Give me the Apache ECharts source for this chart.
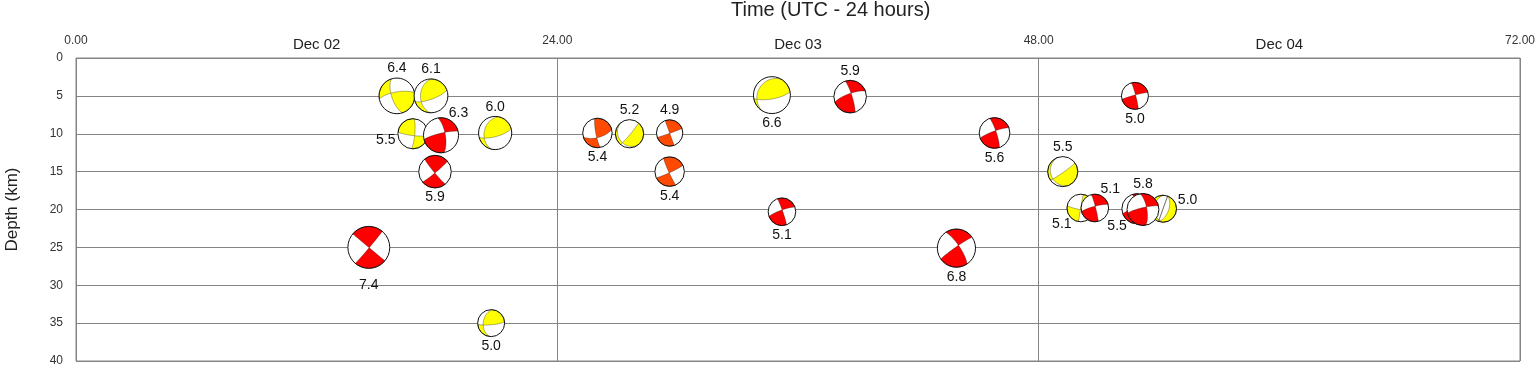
<!DOCTYPE html>
<html><head><meta charset="utf-8">
<script src="https://cdn.jsdelivr.net/npm/echarts@6/dist/echarts.min.js"></script>
<style>html,body{margin:0;padding:0;background:#fff}#c{width:1536px;height:366px}</style>
</head><body><div id="c"></div>
<script>
// ---- data (hours from Dec 02 00:00 UTC, depth km, magnitude, focal mechanism) ----
const hours   = [14.6, 16.0, 16.8, 17.7, 18.2, 17.9, 20.9, 20.7, 26.0, 27.6, 29.6, 29.6, 34.7, 35.2, 38.6, 43.9, 45.8, 49.2, 50.1, 50.8, 52.8, 52.9, 54.2, 53.2];
const depths  = [25.0, 5.0, 10.0, 5.0, 10.2, 15.0, 9.9, 35.0, 9.9, 10.0, 9.9, 15.0, 4.9, 20.3, 5.1, 25.1, 9.9, 15.0, 19.8, 19.8, 5.0, 19.9, 19.9, 20.0];
const mags    = [7.4, 6.4, 5.5, 6.1, 6.3, 5.9, 6.0, 5.0, 5.4, 5.2, 4.9, 5.4, 6.6, 5.1, 5.9, 6.8, 5.6, 5.5, 5.1, 5.1, 5.0, 5.5, 5.0, 5.8];
const kinds   = ['red','yellow','yellow','yellow','red','red','yellow','yellow','orange','yellow','orange','orange','yellow','red','red','red','red','yellow','yellow','red','red','red','yellow','red'];
const strikes = [40, 260, 5, 70, 350, 50, 75, 85, 75, 40, 70, 65, 212, 250, 250, 235, 250, 55, 100, 255, 255, 250, 20, 350];
const dips    = [88, 72, 80, 74, 70, 85, 72, 80, 65, 85, 88, 85, 24, 80, 75, 85, 80, 85, 80, 80, 85, 80, 55, 70];
const rakes   = [180, 25, 170, 125, 10, 175, 120, 130, 170, -70, 180, 175, 45, 175, 170, 166, 170, -70, 180, 175, 175, 170, -80, 10];
const labelPlacement = ['bottomFar','top','left','top','topRight','bottom','top','bottom','bottom','top','top','bottom','bottom','bottom','top','bottom','bottom','top','bottomLeft','topRight','bottom','bottomLeft','right','top'];
const xTickHours = [0, 24, 48, 72];
const dayNames = ['Dec 02', 'Dec 03', 'Dec 04'];
const dayCenters = [12, 36, 60];

// ---- styles ----
const COLORS = {red:'#FF0000', yellow:'#FFFF00', orange:'#FF4A00'};
const FONT = '"Liberation Sans", Arial, sans-serif';
const PLACE = {top:[-90,0], bottom:[90,0], bottomFar:[90,7], left:[165,0], right:[-22,0], topRight:[-55,0], bottomLeft:[135,0]};
function radiusOf(m){ return 3.1*m - 2; }

// ---- focal mechanism geometry ----
const D2R = Math.PI/180;
function dot(a,b){return a[0]*b[0]+a[1]*b[1]+a[2]*b[2];}
function cross(a,b){return [a[1]*b[2]-a[2]*b[1], a[2]*b[0]-a[0]*b[2], a[0]*b[1]-a[1]*b[0]];}
function nrm(a){const l=Math.hypot(a[0],a[1],a[2])||1;return [a[0]/l,a[1]/l,a[2]/l];}
function proj(v,cx,cy,R){
  let [x,y,z]=nrm(v); if(z<0){x=-x;y=-y;z=-z;}
  const p=Math.asin(Math.min(1,z)); const rr=Math.SQRT2*Math.sin((Math.PI/2-p)/2);
  const az=Math.atan2(y,x);
  return [cx+R*rr*Math.sin(az), cy-R*rr*Math.cos(az)];
}
function basis(m){
  const h=nrm([-m[1],m[0],0]); let w=cross(m,h); if(w[2]<0) w=w.map(q=>-q);
  return {h,w};
}
function arc(b,t0,t1,cx,cy,R,out){
  const n=Math.max(2,Math.ceil(Math.abs(t1-t0)/(Math.PI/90)));
  for(let i=0;i<=n;i++){const t=t0+(t1-t0)*i/n;
    const v=[Math.cos(t)*b.h[0]+Math.sin(t)*b.w[0],Math.cos(t)*b.h[1]+Math.sin(t)*b.w[1],Math.cos(t)*b.h[2]+Math.sin(t)*b.w[2]];
    out.push(proj(v,cx,cy,R));}
}
function beachball(strike,dip,rake,cx,cy,R){
  const f=strike*D2R, d=dip*D2R, l=rake*D2R;
  const n=[-Math.sin(d)*Math.sin(f), Math.sin(d)*Math.cos(f), -Math.cos(d)];
  const s=[Math.cos(l)*Math.cos(f)+Math.sin(l)*Math.cos(d)*Math.sin(f), Math.cos(l)*Math.sin(f)-Math.sin(l)*Math.cos(d)*Math.cos(f), -Math.sin(l)*Math.sin(d)];
  let B=nrm(cross(n,s)); if(B[2]<0) B=B.map(q=>-q);
  const planes=[n,s].map(m=>{const b=basis(m); let tp=Math.atan2(dot(B,b.w),dot(B,b.h)); if(tp<0) tp=(tp<-Math.PI/2)?Math.PI:0; b.tp=tp; return b;});
  const ends=[];
  planes.forEach((b,k)=>{let a=Math.atan2(b.h[1],b.h[0]); if(a<0)a+=2*Math.PI;
    ends.push({az:a,k,t:0}); ends.push({az:(a+Math.PI)%(2*Math.PI),k,t:Math.PI});});
  ends.sort((a,b)=>a.az-b.az);
  const polys=[];
  for(let i=0;i<4;i++){
    const e=ends[i], g=ends[(i+1)%4];
    if(e.k===g.k) continue;
    let a0=e.az, a1=g.az; if(a1<=a0) a1+=2*Math.PI;
    const mid=(a0+a1)/2, vm=[Math.cos(mid),Math.sin(mid),0];
    if(dot(n,vm)*dot(s,vm)<=0) continue;
    const pts=[]; const nn=Math.max(2,Math.ceil((a1-a0)/(Math.PI/90)));
    for(let j=0;j<=nn;j++){const a=a0+(a1-a0)*j/nn; pts.push([cx+R*Math.sin(a), cy-R*Math.cos(a)]);}
    arc(planes[g.k], g.t, planes[g.k].tp, cx,cy,R, pts);
    arc(planes[e.k], planes[e.k].tp, e.t, cx,cy,R, pts);
    polys.push(pts);
  }
  return polys;
}

const rows = hours.map((h,i)=>[h, depths[i], mags[i], strikes[i], dips[i], rakes[i], i]);

function renderBall(params, api){
  const i = api.value(6);
  const c = api.coord([api.value(0), api.value(1)]);
  const R = radiusOf(api.value(2));
  const col = COLORS[kinds[i]];
  const children = [{type:'circle', shape:{cx:c[0],cy:c[1],r:R}, style:{fill:'#ffffff', stroke:null}}];
  beachball(api.value(3), api.value(4), api.value(5), c[0], c[1], R).forEach(p=>{
    children.push({type:'polygon', shape:{points:p}, style:{fill:col, stroke:'rgba(0,0,0,0.55)', lineWidth:0.6}});
  });
  children.push({type:'circle', shape:{cx:c[0],cy:c[1],r:R}, style:{fill:'none', stroke:'#111', lineWidth:1}});
  return {type:'group', children};
}
function renderLabel(params, api){
  const i = api.value(6);
  const c = api.coord([api.value(0), api.value(1)]);
  const R = radiusOf(api.value(2));
  const pl = PLACE[labelPlacement[i]];
  const th = pl[0]*D2R, ex = pl[1];
  return {type:'text', x: c[0] + Math.cos(th)*(R+13+ex), y: c[1] + Math.sin(th)*(R+9.5+ex),
    style:{text: api.value(2).toFixed(1), align:'center', verticalAlign:'middle', fill:'#111', font:'14px '+FONT}};
}

const chart = echarts.init(document.getElementById('c'), null, {renderer:'canvas'});
chart.setOption({
  animation:false,
  backgroundColor:'#ffffff',
  grid:{left:76, right:16, top:58, bottom:5, show:true, borderColor:'#858585', borderWidth:1, containLabel:false, outerBoundsMode:'none'},
  graphic:[{type:'text', left:731, top:0, style:{text:'Time (UTC - 24 hours)', font:'20px '+FONT, fill:'#222'}}],
  xAxis:[
    {type:'value', position:'top', min:0, max:72, interval:24,
     axisLine:{show:false}, axisTick:{show:false},
     axisLabel:{margin:11, fontSize:12, color:'#333', fontFamily:FONT,
       formatter:v=> xTickHours.indexOf(v)>=0 ? v.toFixed(2) : ''},
     splitLine:{show:true, lineStyle:{color:'#858585', width:1}}},
    {type:'value', position:'top', min:0, max:72, interval:12,
     axisLine:{show:false}, axisTick:{show:false}, splitLine:{show:false},
     axisLabel:{margin:6, fontSize:15, color:'#222', fontFamily:FONT,
       formatter:v=>{const k=dayCenters.indexOf(v); return k>=0?dayNames[k]:'';}}}
  ],
  yAxis:{type:'value', inverse:true, min:0, max:40, interval:5,
    name:'Depth (km)', nameLocation:'middle', nameGap:55, nameRotate:90,
    nameTextStyle:{fontSize:17, color:'#222', fontFamily:FONT},
    axisLine:{show:false}, axisTick:{show:false},
    axisLabel:{margin:13, fontSize:12, color:'#333', fontFamily:FONT},
    splitLine:{show:true, lineStyle:{color:'#858585', width:1}}},
  series:[
    {type:'custom', xAxisIndex:0, renderItem:renderBall, data:rows, encode:{x:0,y:1}, clip:false, z:3},
    {type:'custom', xAxisIndex:0, renderItem:renderLabel, data:rows, encode:{x:0,y:1}, clip:false, z:4}
  ]
});
</script></body></html>
